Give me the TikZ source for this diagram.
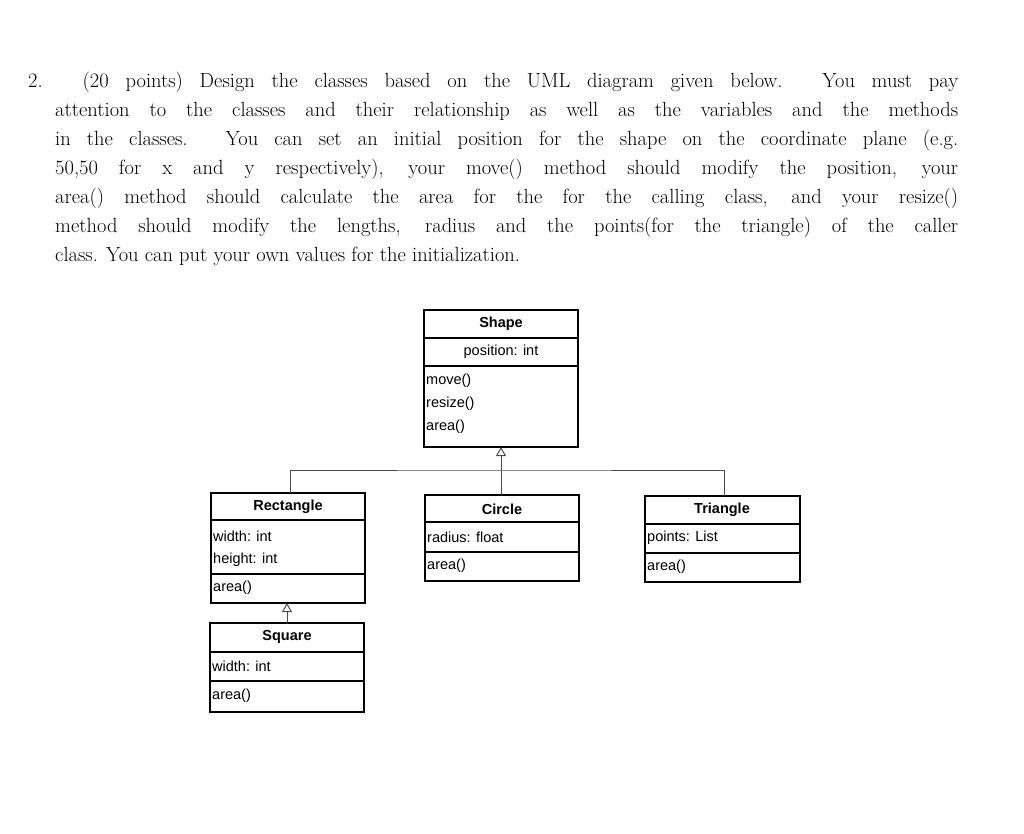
\documentclass[tikz,border=0pt]{standalone}
\usepackage{fontspec}
\newfontfamily\umlfont{Liberation Sans}
\usetikzlibrary{arrows.meta}
\begin{document}
\begin{tikzpicture}[x=1pt,y=-1pt,
  line/.style={anchor=west,inner sep=0pt,font=\fontsize{20.5}{24}\selectfont},
  box/.style={draw,line width=1.2pt},
  ttl/.style={font=\umlfont\bfseries\fontsize{14.5}{17}\selectfont,inner sep=0pt},
  itm/.style={font=\umlfont\fontsize{14.5}{17}\selectfont,inner sep=0pt,anchor=west},
  conn/.style={draw=black!70,line width=1pt},
  inh/.style={conn,-{Triangle[open,length=9pt,width=10pt]}}]
\useasboundingbox (0,0) rectangle (1024,834);
% paragraph
\node[line] (l1) at (28,82) {\makebox[930pt][s]{2. (20 points) Design the classes based on the UML diagram given below. You must pay}};
\node[line] (l2) at (55,111) {\makebox[903pt][s]{attention to the classes and their relationship as well as the variables and the methods}};
\node[line] (l3) at (55,140) {\makebox[903pt][s]{in the classes. You can set an initial position for the shape on the coordinate plane (e.g.}};
\node[line] (l4) at (55,169) {\makebox[903pt][s]{50,50 for x and y respectively), your move() method should modify the position, your}};
\node[line] (l5) at (55,198) {\makebox[903pt][s]{area() method should calculate the area for the for the calling class, and your resize()}};
\node[line] (l6) at (55,227) {\makebox[903pt][s]{method should modify the lengths, radius and the points(for the triangle) of the caller}};
\node[line] (l7) at (55,256) {class. You can put your own values for the initialization.};
% Shape
\draw[box] (424,310) rectangle (578,447);
\draw[box] (424,338) -- (578,338) (424,366) -- (578,366);
\node[ttl] (shapeT) at (501,324) {Shape};
\node[itm,anchor=center] (shapeA) at (501,352) {position: int};
\node[itm] (m1) at (426,381) {move()};
\node[itm] (m2) at (426,404) {resize()};
\node[itm] (m3) at (426,427) {area()};
\coordinate (shapeB) at (501,447);
% Rectangle
\draw[box] (211,493) rectangle (365,603);
\draw[box] (211,520) -- (365,520) (211,574) -- (365,574);
\node[ttl] (rectT) at (288,507) {Rectangle};
\node[itm] (r1) at (213,536) {width: int};
\node[itm] (r2) at (213,560) {height: int};
\node[itm] (r3) at (213,588) {area()};
\coordinate (rectTop) at (290,493);
\coordinate (rectB) at (287,603);
% Circle
\draw[box] (425,495) rectangle (579,581);
\draw[box] (425,522) -- (579,522) (425,552) -- (579,552);
\node[ttl] (circT) at (502,509) {Circle};
\node[itm] (c1) at (427,537) {radius: float};
\node[itm] (c2) at (427,566) {area()};
\coordinate (circTop) at (501,495);
% Triangle
\draw[box] (645,496) rectangle (800,582);
\draw[box] (645,524) -- (800,524) (645,553) -- (800,553);
\node[ttl] (triT) at (722,510) {Triangle};
\node[itm] (t1) at (647,538) {points: List};
\node[itm] (t2) at (647,567) {area()};
\coordinate (triTop) at (724,496);
% Square
\draw[box] (210,623) rectangle (364,712);
\draw[box] (210,652) -- (364,652) (210,681) -- (364,681);
\node[ttl] (sqT) at (287,637) {Square};
\node[itm] (s1) at (212,666) {width: int};
\node[itm] (s2) at (212,696) {area()};
\coordinate (sqTop) at (287,623);
% connectors
\coordinate (j) at (501,470);
\draw[inh] (j) -- (shapeB);
\draw[conn] (rectTop) |- (j) -| (triTop);
\draw[conn] (j) -- (circTop);
\draw[inh] (sqTop) -- (rectB);
\end{tikzpicture}
\end{document}
